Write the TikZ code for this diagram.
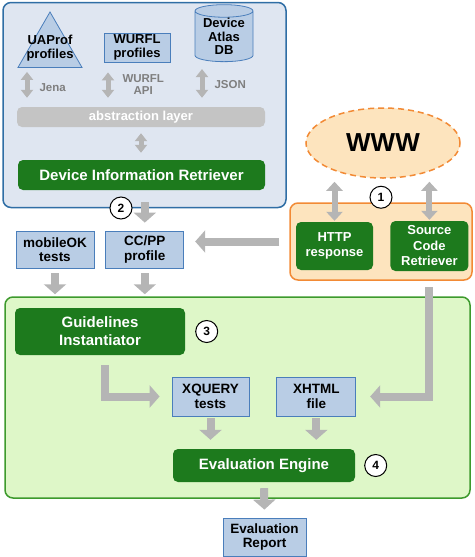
\documentclass[tikz,border=0pt]{standalone}
\usepackage{fontspec}
\setmainfont{Liberation Sans}
\usetikzlibrary{positioning,shapes.geometric,arrows.meta}

\definecolor{boxblue}{HTML}{B9CDE5}
\definecolor{lineblue}{HTML}{4A7EBB}
\definecolor{panelblue}{HTML}{DFE6F1}
\definecolor{edgeblue}{HTML}{2F6EA5}
\definecolor{darkgreen}{HTML}{1D7A1D}
\definecolor{panelgreen}{HTML}{DEF7C8}
\definecolor{edgegreen}{HTML}{3D9A2D}
\definecolor{panelorange}{HTML}{FDE4BE}
\definecolor{edgeorange}{HTML}{F28A35}
\definecolor{arrowgray}{HTML}{B5B5B5}
\definecolor{notegray}{HTML}{7F7F7F}

\tikzset{
  panel/.style={draw,line width=1.5pt,rectangle,rounded corners=8pt},
  rect/.style={draw=lineblue,fill=boxblue,line width=0.8pt,rectangle,
    align=center,inner sep=1pt,font=\bfseries\fontsize{13.5}{14.5}\selectfont},
  gbox/.style={fill=darkgreen,text=white,rectangle,rounded corners=5pt,
    align=center,inner sep=1pt,font=\bfseries\fontsize{15}{18}\selectfont},
  num/.style={draw,circle,fill=white,line width=1pt,inner sep=0pt,
    minimum size=22pt,font=\bfseries\fontsize{12}{12}\selectfont},
  note/.style={text=notegray,align=center,inner sep=1pt,
    font=\bfseries\fontsize{11.5}{12}\selectfont},
  fat/.style={draw=arrowgray,line width=8pt,-{Triangle[width=22pt,length=10pt]}},
  dbl/.style={draw=arrowgray,line width=5pt,
    {Triangle[width=12pt,length=8pt]}-{Triangle[width=12pt,length=8pt]}},
  bigdbl/.style={draw=arrowgray,line width=6pt,
    {Triangle[width=16pt,length=9pt]}-{Triangle[width=16pt,length=9pt]}},
}

\begin{document}
\begin{tikzpicture}[x=1pt,y=-1pt,node distance=10pt]
\useasboundingbox (0,0) rectangle (474,557);

% panels
\node[panel,draw=edgeblue,fill=panelblue,minimum width=283pt,minimum height=205pt]
    (dipanel) at (144.5,105) {};
\node[panel,draw=edgeorange,fill=panelorange,minimum width=182pt,minimum height=77pt]
    (orange) at (381,241.5) {};
\node[panel,draw=edgegreen,fill=panelgreen,minimum width=465pt,minimum height=201pt]
    (gpanel) at (237.5,397.5) {};

% device information retriever
\node[regular polygon,regular polygon sides=3,draw=lineblue,fill=boxblue,line width=0.8pt,
    minimum size=74pt,inner sep=0pt] (uaprof) at (50,49) {};
\node[font=\bfseries\fontsize{13}{14.5}\selectfont,align=center] at ([yshift=1pt]uaprof)
    {UAProf\\profiles};
\node[rect,font=\bfseries\fontsize{13}{14.5}\selectfont,minimum width=66pt,minimum height=29pt]
    (wurfl) at (137,47.5) {WURFL\\profiles};
\node[cylinder,shape border rotate=90,aspect=0.3,draw=lineblue,fill=boxblue,line width=0.8pt,
    minimum width=58pt,minimum height=57pt,inner sep=0pt,align=center,
    font=\bfseries\fontsize{13}{13.5}\selectfont] (atlas) at (224,36.5) {Device\\Atlas\\DB};

\node[fill=arrowgray!80,text=white,rounded corners=5pt,minimum width=248pt,minimum height=20pt,
    inner sep=0pt,font=\bfseries\fontsize{13}{14}\selectfont] (abstr) at (141,117) {abstraction layer};
\node[gbox,minimum width=247pt,minimum height=30pt] (dir) at (141.5,175)
    {Device Information Retriever};

% www side
\node[ellipse,draw=edgeorange,fill=panelorange,line width=1.5pt,dash pattern=on 6pt off 4pt,
    minimum width=154pt,minimum height=70pt,font=\bfseries\fontsize{26}{28}\selectfont]
    (www) at (383,143) {WWW};
\node[gbox,font=\bfseries\fontsize{13}{15.5}\selectfont,minimum width=77pt,minimum height=48pt]
    (http) at (334.5,246) {HTTP\\response};
\node[gbox,font=\bfseries\fontsize{13}{15.5}\selectfont,minimum width=78pt,minimum height=50pt,
    right=17pt of http] (srcret) {Source\\Code\\Retriever};

% profiles
\node[rect,minimum width=78pt,minimum height=37pt] (mobileok) at (55,249.5) {mobileOK\\tests};
\node[rect,minimum width=78pt,minimum height=37pt,right=11pt of mobileok] (ccpp) {CC/PP\\profile};

% evaluation
\node[gbox,minimum width=170pt,minimum height=47pt] (guide) at (100,331.5)
    {Guidelines\\Instantiator};
\node[rect,minimum width=77pt,minimum height=39pt] (xquery) at (210.5,396.5) {XQUERY\\tests};
\node[rect,minimum width=79pt,minimum height=39pt,right=27pt of xquery] (xhtml) {XHTML\\file};
\node[gbox,minimum width=182pt,minimum height=33pt] (engine) at (264,465.5) {Evaluation Engine};
\node[rect,minimum width=83pt,minimum height=38pt] (report) at (264.5,537) {Evaluation\\Report};

% connectors
\draw[dbl,shorten <=4pt,shorten >=9pt] ([xshift=-23pt]uaprof.south)
    -- ([xshift=-23pt]uaprof.south |- abstr.north) node[note,midway,right=9pt] {Jena};
\draw[dbl,shorten <=10pt,shorten >=9pt] ([xshift=-29pt]wurfl.south)
    -- ([xshift=-29pt]wurfl.south |- abstr.north) node[note,midway,right=11pt] {WURFL\\API};
\draw[dbl,shorten <=7pt,shorten >=9pt] ([xshift=-22pt]atlas.south)
    -- ([xshift=-22pt]atlas.south |- abstr.north) node[note,midway,right=9pt] {JSON};
\draw[dbl,shorten <=6pt,shorten >=7pt] (abstr.south) -- (abstr.south |- dir.north);

\draw[fat,shorten <=12pt,shorten >=8pt] (dir.south -| ccpp.north) -- (ccpp.north);
\draw[bigdbl,shorten <=3pt,shorten >=1pt] (http.north |- www.south) -- (http.north);
\draw[bigdbl,shorten <=3pt,shorten >=1pt] (srcret.north |- www.south) -- (srcret.north);
\draw[fat,shorten <=10pt,shorten >=11pt] (orange.west) -- (orange.west -| ccpp.east);

\draw[fat,shorten <=5pt,shorten >=2pt] (mobileok.south) -- (mobileok.south |- gpanel.north);
\draw[fat,shorten <=5pt,shorten >=2pt] (ccpp.south) -- (ccpp.south |- gpanel.north);
\draw[fat,shorten <=10pt,shorten >=12pt] ([xshift=5pt]guide.south) |- (xquery.west);
\draw[fat,shorten <=16pt,shorten >=14pt] (srcret.south) |- (xhtml.east);
\draw[fat,shorten <=2pt,shorten >=9pt] (xquery.south) -- (xquery.south |- engine.north);
\draw[fat,shorten <=2pt,shorten >=9pt] (xhtml.south) -- (xhtml.south |- engine.north);
\draw[fat,shorten <=6pt,shorten >=8pt] (engine.south) -- (report.north);

% step numbers
\node[num] (one) at ([yshift=5pt]orange.north) {1};
\node[num] (two) at (121,208) {2};
\node[num,right=10pt of guide] (three) {3};
\node[num,right=9pt of engine] (four) {4};

\end{tikzpicture}
\end{document}
